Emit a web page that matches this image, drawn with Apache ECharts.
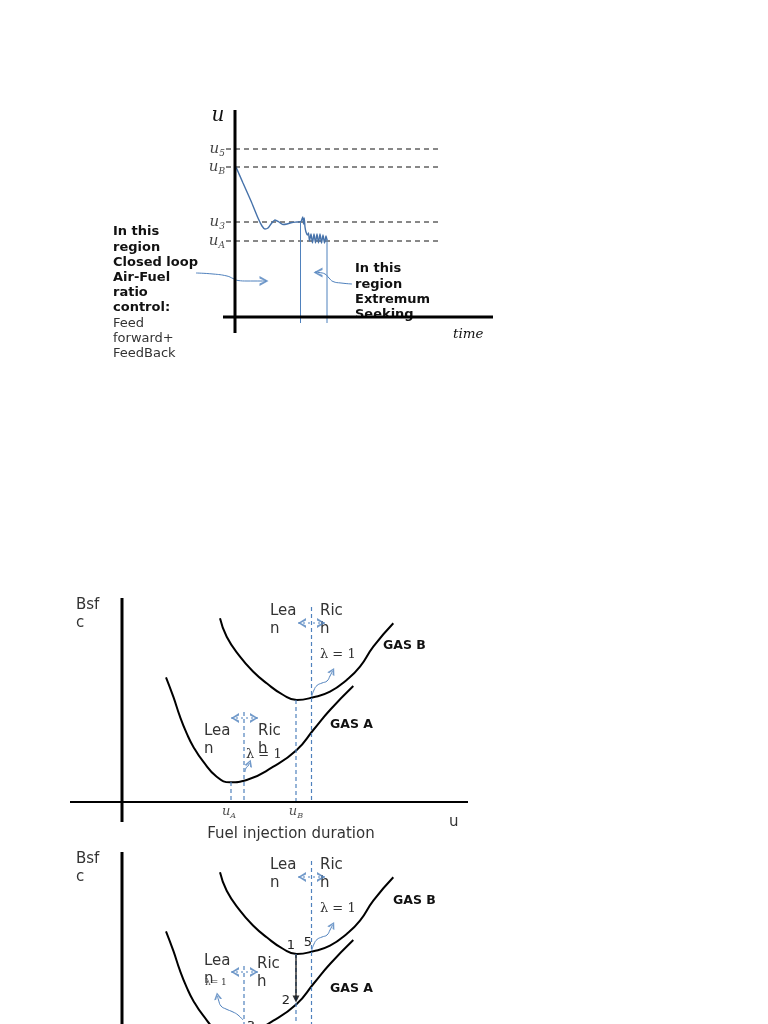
<!DOCTYPE html>
<html><head><meta charset="utf-8">
<script src="https://cdn.jsdelivr.net/npm/echarts@6/dist/echarts.min.js"></script>
<style>html,body{margin:0;padding:0;background:#fff}#c{width:768px;height:1024px}</style>
</head><body><div id="c"></div>
<script>
// ===== Panel 1: control input u versus time =====
const levelNames = ['5', 'B', '3', 'A'];
const levelValues = [168, 150, 95, 76];
const levelSpan = [-9, 205];
const uResponse = [[1,150],[8,134],[16,116],[23,99],[27,91],[30,88],[33,89],[36,93],[40,97],[44,95],[48,92.5],[52,93],[57,94.5],[62,95],[66,95.5],[67,98],[67.8,100],[68.5,93],[69.2,99],[70,90],[71,85],[72.5,82],[73.5,84],[74.5,76],[76,83],[77.5,74],[79,83],[80.5,74],[82,83],[83.5,74],[85,83],[86.5,74],[88,82],[89.5,74],[91,81],[92,77]];
const switchLines = [[[65.5,95],[65.5,-6]], [[92,78],[92,-6]]];
const arrowClosedLoop = [[-39,44],[-22,43],[-8,41],[-2,38.5],[3,36.5],[12,36],[31,36]];
const arrowExtremum = [[117,33],[106,34],[98,35.5],[94,39],[90,43],[84,44.5],[80,45]];
const topHeads = [[29,36,0],[83,44.5,180]];
const topAxisX = [[-12,0],[258,0]];
const topAxisY = [[0,207],[0,-16]];

// ===== Panels 2 & 3: BSFC versus fuel injection duration =====
const gasB = [[98,183.7],[104.7,165.3],[118,145.3],[131.3,130.3],[144.7,118.7],[161.3,107],[174.7,102],[191.3,104.7],[208,110.3],[224.7,122],[238,135.3],[251.3,155.3],[271.3,178.7]];
const gasA = [[44,124.7],[51.3,105.3],[58,85.3],[64.7,68.7],[71.3,55.3],[81.3,40.3],[94.7,25.3],[108,19.7],[124.7,22],[151.3,35.3],[174.7,52],[191.3,72],[208,92],[231.3,116]];
const stoichLines = [[[109,20],[109,0]], [[122,90],[122,0]], [[174,102],[174,0]], [[189.5,195],[189.5,0]]];
const tickNames = ['A', 'B'];
const tickValues = [107, 174];
const leanRichUpper = [[176,179],[203,179]];
const leanRichLower = [[109,84],[136,84]];
const leanRichHeads = [[180,179,180],[199,179,0],[113,84,180],[132,84,0]];
const lambdaArrowUpper = [[189.5,105],[192,112],[195,116.5],[200,119],[205,121],[208,126],[210.5,131]];
const lambdaArrowLower = [[123,30],[124,34],[126,36],[127.5,39]];
const lambdaHeads = [[210.5,131,62],[127.5,39,70]];
const lambdaArrowBottom = [[121,36],[116,41],[111,44],[104,47],[99,50],[96.5,56],[95.5,60]];
const lambdaHeadBottom = [[95.5,60,100]];
const switchArrow = [[174,101],[174,56]];
const switchHead = [[174,57,180]];
const midAxisX = [[-52,0],[346,0]];
const midAxisY = [[0,204],[0,-20]];
const botAxisY = [[0,204],[0,0]];

const BLUE = '#4F81BD';
const DARKBLUE = '#4672AA';
const CHEVRON = 'path://M0,0 L10,5 L0,10 L0,7.4 L6.4,5 L0,2.6 Z';
const SERIF = '"DejaVu Serif", "Liberation Serif", serif';
const SANS = '"DejaVu Sans", sans-serif';

function lineSeries(gi, data, style, extra) {
  return Object.assign({type:'line', xAxisIndex:gi, yAxisIndex:gi, data:data, symbol:'none',
    silent:true, animation:false, lineStyle:style}, extra || {});
}
function heads(gi, pts, color, size, symbol) {
  return {type:'scatter', xAxisIndex:gi, yAxisIndex:gi, silent:true, animation:false,
    symbol: symbol || CHEVRON, symbolSize:size, itemStyle:{color:color},
    data: pts.map(p => ({value:[p[0], p[1]], symbolRotate:p[2]}))};
}

const series = [];
// --- panel 1
levelValues.forEach(v => series.push(lineSeries(0, [[levelSpan[0], v], [levelSpan[1], v]], {color:'#111', width:1, type:[5,4]})));
series.push({type:'scatter', xAxisIndex:0, yAxisIndex:0, symbolSize:0, silent:true, animation:false,
  data: levelValues.map((v,i) => ({value:[levelSpan[0], v], name:levelNames[i]})),
  label:{show:true, position:'left', distance:1, formatter: p => '{u|u}{s|' + p.name + '}',
    rich:{u:{fontFamily:SERIF, fontStyle:'italic', fontSize:15, color:'#111', lineHeight:18},
          s:{fontFamily:SERIF, fontStyle:'italic', fontSize:9, color:'#111', lineHeight:9, verticalAlign:'bottom'}}}});
series.push(lineSeries(0, uResponse, {color:DARKBLUE, width:1.4}, {smooth:0.2}));
switchLines.forEach(d => series.push(lineSeries(0, d, {color:BLUE, width:1})));
series.push(lineSeries(0, arrowClosedLoop, {color:BLUE, width:1}, {smooth:0.5}));
series.push(lineSeries(0, arrowExtremum, {color:BLUE, width:1}, {smooth:0.5}));
series.push(heads(0, topHeads, BLUE, [9,10]));
series.push(lineSeries(0, topAxisX, {color:'#000', width:3}, {z:5}));
series.push(lineSeries(0, topAxisY, {color:'#000', width:3}, {z:5}));

// --- panels 2 and 3 share curves
[1, 2].forEach(gi => {
  series.push(lineSeries(gi, gasB, {color:'#000', width:2}, {smooth:0.5}));
  series.push(lineSeries(gi, gasA, {color:'#000', width:2}, {smooth:0.5}));
  stoichLines.forEach(d => series.push(lineSeries(gi, d, {color:BLUE, width:1.2, type:[4,3]})));
  series.push(lineSeries(gi, leanRichUpper, {color:BLUE, width:1, type:[2,3]}));
  series.push(lineSeries(gi, leanRichLower, {color:BLUE, width:1, type:[2,3]}));
  series.push(heads(gi, leanRichHeads, BLUE, [8,10]));
  series.push(lineSeries(gi, lambdaArrowUpper, {color:BLUE, width:1}, {smooth:0.5}));
  series.push(lineSeries(gi, gi === 1 ? midAxisY : botAxisY, {color:'#000', width:3}, {z:5}));
});
series.push(lineSeries(1, lambdaArrowLower, {color:BLUE, width:1}, {smooth:0.5}));
series.push(heads(1, lambdaHeads, BLUE, [7,8]));
series.push(lineSeries(1, midAxisX, {color:'#000', width:2}, {z:5}));
series.push({type:'scatter', xAxisIndex:1, yAxisIndex:1, symbolSize:0, silent:true, animation:false,
  data: tickValues.map((v,i) => ({value:[v, -10], name:tickNames[i]})),
  label:{show:true, position:'inside', formatter: p => '{u|u}{s|' + p.name + '}',
    rich:{u:{fontFamily:SERIF, fontStyle:'italic', fontSize:13, color:'#222', lineHeight:15},
          s:{fontFamily:SERIF, fontStyle:'italic', fontSize:8, color:'#222', lineHeight:8, verticalAlign:'bottom'}}}});
series.push(heads(2, [lambdaHeads[0]], BLUE, [7,8]));
series.push(lineSeries(2, lambdaArrowBottom, {color:BLUE, width:1}, {smooth:0.5}));
series.push(heads(2, lambdaHeadBottom, BLUE, [7,8]));
series.push(lineSeries(2, switchArrow, {color:'#000', width:1.2}));
series.push(heads(2, switchHead, '#000', 7, 'triangle'));

// ---- texts
const els = [];
function T(x, y, text, font, fill, align) {
  els.push({type:'text', x:x, y:y, z:1, silent:true,
    style:{text:text, font:font, fill:fill || '#333', align:align || 'left', verticalAlign:'middle'}});
}
const B13 = 'bold 13px ' + SANS, R13 = '13px ' + SANS, R15 = '15px ' + SANS, B12 = 'bold 12.5px ' + SANS;
T(218, 116, 'u', 'italic 20px ' + SERIF, '#111', 'center');
T(453, 334, 'time', 'italic 13.5px ' + SERIF, '#111');
['In this','region','Closed loop','Air-Fuel','ratio','control:'].forEach((s,i) => T(113, 232 + i*15.2, s, B13, '#111'));
['Feed','forward+','FeedBack'].forEach((s,i) => T(113, 323.5 + i*15.2, s, R13, '#333'));
['In this','region','Extremum','Seeking'].forEach((s,i) => T(355, 269 + i*15.2, s, B13, '#111'));

[0, 254].forEach(dy => {
  T(76, 605 + dy, 'Bsf', R15); T(76, 623 + dy, 'c', R15);
  T(270, 611 + dy, 'Lea', R15); T(270, 629 + dy, 'n', R15);
  T(320, 611 + dy, 'Ric', R15); T(320, 629 + dy, 'h', R15);
  T(320, 655 + dy, 'λ = 1', '13px ' + SERIF, '#333');
});
T(383, 646, 'GAS B', B12, '#111'); T(330, 725, 'GAS A', B12, '#111');
T(393, 901, 'GAS B', B12, '#111'); T(330, 989, 'GAS A', B12, '#111');
T(204, 731, 'Lea', R15); T(204, 749, 'n', R15);
T(258, 731, 'Ric', R15); T(258, 749, 'h', R15);
T(246, 755, 'λ = 1', '13px ' + SERIF, '#333');
T(449, 822, 'u', R15); T(291, 834, 'Fuel injection duration', R15, '#333', 'center');
T(204, 961, 'Lea', R15); T(204, 979, 'n', R15);
T(257, 964, 'Ric', R15); T(257, 982, 'h', R15);
T(205, 983, 'λ= 1', '9px ' + SERIF, '#333');
T(291, 946, '1', R13, '#222', 'center'); T(308, 943, '5', R13, '#222', 'center');
T(286, 1001, '2', R13, '#222', 'center'); T(251, 1027, '3', R13, '#222', 'center');

const chart = echarts.init(document.getElementById('c'), null, {renderer:'canvas'});
const hidden = {show:false};
chart.setOption({
  animation:false,
  backgroundColor:'#fff',
  grid:[
    {left:100, top:100, width:400, height:260},
    {left:60, top:590, width:420, height:260},
    {left:60, top:845, width:420, height:179}
  ],
  xAxis:[
    Object.assign({type:'value', gridIndex:0, min:-135, max:265}, hidden),
    Object.assign({type:'value', gridIndex:1, min:-62, max:358}, hidden),
    Object.assign({type:'value', gridIndex:2, min:-62, max:358}, hidden)
  ],
  yAxis:[
    Object.assign({type:'value', gridIndex:0, min:-43, max:217}, hidden),
    Object.assign({type:'value', gridIndex:1, min:-48, max:212}, hidden),
    Object.assign({type:'value', gridIndex:2, min:32, max:211}, hidden)
  ],
  series: series,
  graphic: {elements: els}
});
</script></body></html>
